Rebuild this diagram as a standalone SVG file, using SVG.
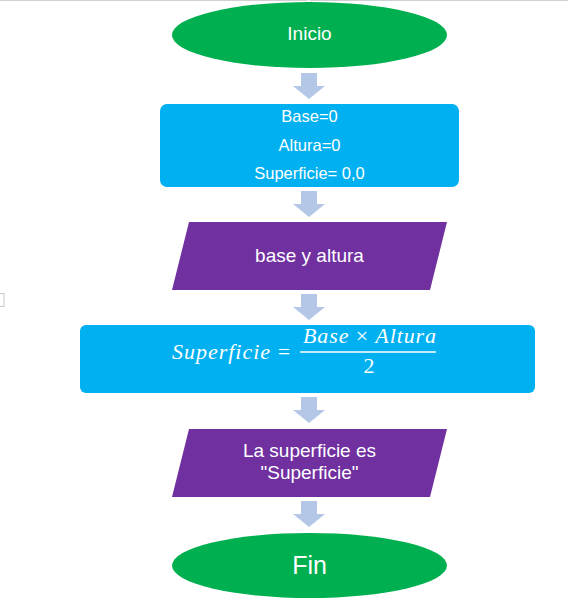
<svg xmlns="http://www.w3.org/2000/svg" width="568" height="599" viewBox="0 0 568 599">
<style>
.term{fill:#00B050}
.proc{fill:#00B0F0}
.io{fill:#7030A0}
.arrow{fill:#B4C7E7}
.t{fill:#FFFFFF;font-family:"Liberation Sans",Arial,sans-serif;text-anchor:middle}
.m{fill:#FFFFFF;font-family:"Liberation Serif","Times New Roman",serif;font-size:22px}
</style>
<defs>
<path id="arr" d="M-8,0 H8 V13 H16 L0,26 L-16,13 H-8 Z"/>
</defs>
<rect x="0" y="0" width="568" height="599" fill="#FFFFFF"/>
<line x1="0" y1="0.5" x2="568" y2="0.5" stroke="#D0D0D0" stroke-width="1"/>
<rect x="306" y="0" width="5" height="3" fill="#FFFFFF" stroke="#C8C8C8" stroke-width="0.6"/>
<rect x="-1" y="293.5" width="5" height="13" fill="#FFFFFF" stroke="#C8C8C8" stroke-width="1"/>

<g id="connectors">
<use href="#arr" class="arrow" transform="translate(309,73)"/>
<use href="#arr" class="arrow" transform="translate(309,191)"/>
<use href="#arr" class="arrow" transform="translate(309,294)"/>
<use href="#arr" class="arrow" transform="translate(309,397)"/>
<use href="#arr" class="arrow" transform="translate(309,501)"/>
</g>

<g id="inicio">
<ellipse class="term" cx="309.5" cy="35" rx="137.5" ry="33"/>
<text class="t" x="309.5" y="40" font-size="19">Inicio</text>
</g>

<g id="init">
<rect class="proc" x="160" y="104" width="299" height="83" rx="7"/>
<text class="t" x="309.5" y="122" font-size="16.5">Base=0</text>
<text class="t" x="309.5" y="151" font-size="16.5">Altura=0</text>
<text class="t" x="309.5" y="178.5" font-size="16.5">Superficie= 0,0</text>
</g>

<g id="input">
<polygon class="io" points="189,222 447,222 430,290 172,290"/>
<text class="t" x="309.5" y="262" font-size="19">base y altura</text>
</g>

<g id="calc">
<rect class="proc" x="80" y="325" width="455" height="68" rx="6"/>
<text class="m" x="172" y="359" font-style="italic" textLength="98" lengthAdjust="spacing">Superficie</text>
<text class="m" x="284" y="359" text-anchor="middle">=</text>
<text class="m" x="303" y="343" textLength="133" lengthAdjust="spacing"><tspan font-style="italic">Base</tspan> × <tspan font-style="italic">Altura</tspan></text>
<line x1="300" y1="352" x2="436" y2="352" stroke="#FFFFFF" stroke-width="1.5"/>
<text class="m" x="369" y="373" text-anchor="middle">2</text>
</g>

<g id="output">
<polygon class="io" points="189,429 447,429 430,497 172,497"/>
<text class="t" x="309.5" y="457" font-size="19">La superficie es</text>
<text class="t" x="309.5" y="479" font-size="19">"Superficie"</text>
</g>

<g id="fin">
<ellipse class="term" cx="309.5" cy="565.5" rx="137.5" ry="32.5"/>
<text class="t" x="309.5" y="574" font-size="25">Fin</text>
</g>
</svg>
